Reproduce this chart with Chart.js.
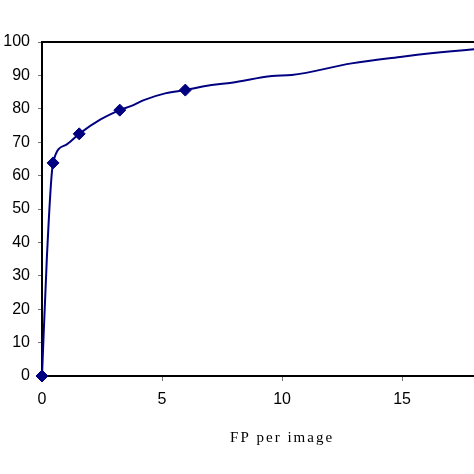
<!DOCTYPE html>
<html>
<head>
<meta charset="utf-8">
<script src="https://cdn.jsdelivr.net/npm/chart.js@4/dist/chart.umd.min.js"></script>
<style>
  html, body { margin: 0; padding: 0; background: #fff; overflow: hidden; }
  #wrap { width: 540px; height: 474px; }
</style>
</head>
<body>
<div id="wrap"><canvas id="froc" width="540" height="474"></canvas></div>
<script>
// FROC-like curve
let fpValues = [0, 0.2, 0.46, 1.0, 1.55, 2.44, 3.24, 3.7, 4.24, 5.17, 5.97, 7.06, 7.9, 9.58, 10.4, 12.9, 15.0, 16.2, 18.1, 20];
let sensValues = [0, 35, 63.8, 69.2, 72.5, 76.8, 79.6, 80.8, 82.6, 84.7, 85.6, 87.1, 87.8, 89.8, 90.1, 93.6, 95.6, 96.6, 97.9, 99];
let markerFp = [0, 0.46, 1.55, 3.24, 5.97];
let markerSens = [0, 63.8, 72.5, 79.6, 85.6];
let yTicks = [0, 10, 20, 30, 40, 50, 60, 70, 80, 90, 100];
let xTicks = [0, 5, 10, 15, 20];
let xTitle = 'FP per image';

const navy = '#000080';

function toPoints(xs, ys) {
    let pts = [];
    for (let i = 0; i < xs.length; i++) {
        pts.push({x: xs[i], y: ys[i]});
    }
    return pts;
}

// top border of the plot and the spaced-out serif axis title
const framePlugin = {
    id: 'frame',
    afterDraw(chart) {
        const ctx = chart.ctx;
        const a = chart.chartArea;
        ctx.save();
        ctx.strokeStyle = '#000';
        ctx.lineWidth = 2;
        ctx.beginPath();
        ctx.moveTo(a.left, a.top);
        ctx.lineTo(a.right, a.top);
        ctx.stroke();
        ctx.fillStyle = '#000';
        ctx.font = '15px "Liberation Serif", "Times New Roman", serif';
        ctx.letterSpacing = '2px';
        ctx.textAlign = 'center';
        ctx.textBaseline = 'middle';
        ctx.fillText(xTitle, chart.scales.x.getPixelForValue(10), 438);
        ctx.restore();
    }
};

const tickFont = {family: '"Liberation Sans", Arial, sans-serif', size: 16};

new Chart(document.getElementById('froc').getContext('2d'), {
    type: 'scatter',
    data: {
        datasets: [{
                data: toPoints(fpValues, sensValues),
                showLine: true,
                borderColor: navy,
                borderWidth: 2,
                pointRadius: 0,
                cubicInterpolationMode: 'monotone'
            }, {
                data: toPoints(markerFp, markerSens),
                showLine: false,
                clip: false,
                pointStyle: 'rectRot',
                pointRadius: 6,
                backgroundColor: navy,
                borderColor: navy
            }]
    },
    options: {
        responsive: false,
        animation: false,
        layout: {padding: {top: 42, right: 12}},
        plugins: {legend: {display: false}, tooltip: {enabled: false}},
        scales: {
            x: {
                type: 'linear',
                min: 0,
                max: 20,
                afterBuildTicks: s => { s.ticks = xTicks.map(v => ({value: v})); },
                afterFit: s => { s.height = 98; },
                grid: {drawOnChartArea: false, drawTicks: true, tickLength: 5, color: '#777'},
                border: {display: true, color: '#000', width: 2},
                ticks: {font: tickFont, color: '#000', padding: 9, maxRotation: 0}
            },
            y: {
                min: 0,
                max: 100,
                afterBuildTicks: s => { s.ticks = yTicks.map(v => ({value: v})); },
                afterFit: s => { s.width = 42; },
                grid: {drawOnChartArea: false, drawTicks: true, tickLength: 4, color: '#777'},
                border: {display: true, color: '#000', width: 2},
                ticks: {font: tickFont, color: '#000', padding: 8}
            }
        }
    },
    plugins: [framePlugin]
});
</script>
</body>
</html>
